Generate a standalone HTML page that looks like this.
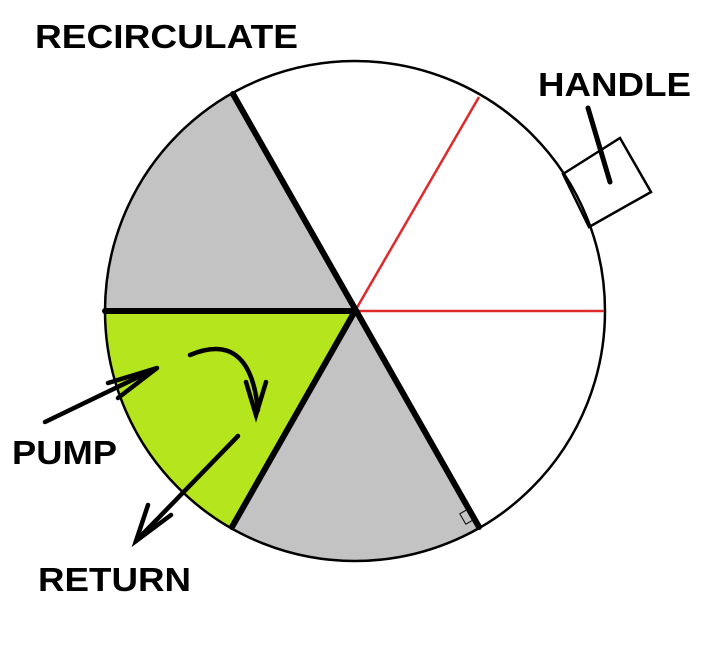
<!DOCTYPE html>
<html><head><style>body{margin:0;background:#fff}svg{display:block}</style></head><body>
<svg width="706" height="646" viewBox="0 0 706 646" xmlns="http://www.w3.org/2000/svg">
<rect width="706" height="646" fill="#fff"/>
<polygon points="563,174 620,138 651,192 589,227" fill="#fff" stroke="#000" stroke-width="2.5"/>
<path d="M355 311 L230 94.5 A250 250 0 0 0 105 311 Z" fill="#c3c3c3"/>
<path d="M355 311 L105 311 A250 250 0 0 0 230 527.5 Z" fill="#b5e61d"/>
<path d="M355 311 L230 527.5 A250 250 0 0 0 480 527.5 Z" fill="#c3c3c3"/>
<circle cx="355" cy="311" r="250" fill="none" stroke="#000" stroke-width="2.5"/>
<line x1="355" y1="311" x2="479" y2="97" stroke="#dd2a2a" stroke-width="2.5"/>
<line x1="355" y1="311" x2="604" y2="311" stroke="#dd2a2a" stroke-width="2.5"/>
<g stroke="#000" stroke-width="6" stroke-linecap="round">
<line x1="233" y1="94" x2="479" y2="527"/>
<line x1="105" y1="311" x2="355" y2="311"/>
<line x1="355" y1="311" x2="232" y2="527"/>
</g>
<rect x="462" y="510" width="12" height="12" fill="none" stroke="#000" stroke-width="1" transform="rotate(-30 468 516)"/>
<line x1="588" y1="108" x2="610" y2="182" stroke="#000" stroke-width="5" stroke-linecap="round"/>
<g stroke="#000" stroke-width="4.5" stroke-linecap="round" fill="none">
<line x1="45" y1="422" x2="157" y2="368"/>
<polyline points="108,383 157,368 118,398"/>
<path d="M190 355 Q250 330 258 410"/>
<polyline points="246,382 256,415 266,382"/>
<line x1="238" y1="436" x2="136" y2="541"/>
<polyline points="148,505 136,541 171,515"/>
</g>
<g font-family="Liberation Sans, Arial, sans-serif" font-weight="bold" font-size="33" fill="#000">
<text x="35" y="48" textLength="263" lengthAdjust="spacingAndGlyphs">RECIRCULATE</text>
<text x="538" y="96" textLength="153" lengthAdjust="spacingAndGlyphs">HANDLE</text>
<text x="12" y="464" textLength="105" lengthAdjust="spacingAndGlyphs">PUMP</text>
<text x="38" y="591" textLength="153" lengthAdjust="spacingAndGlyphs">RETURN</text>
</g>
</svg>
</body></html>
